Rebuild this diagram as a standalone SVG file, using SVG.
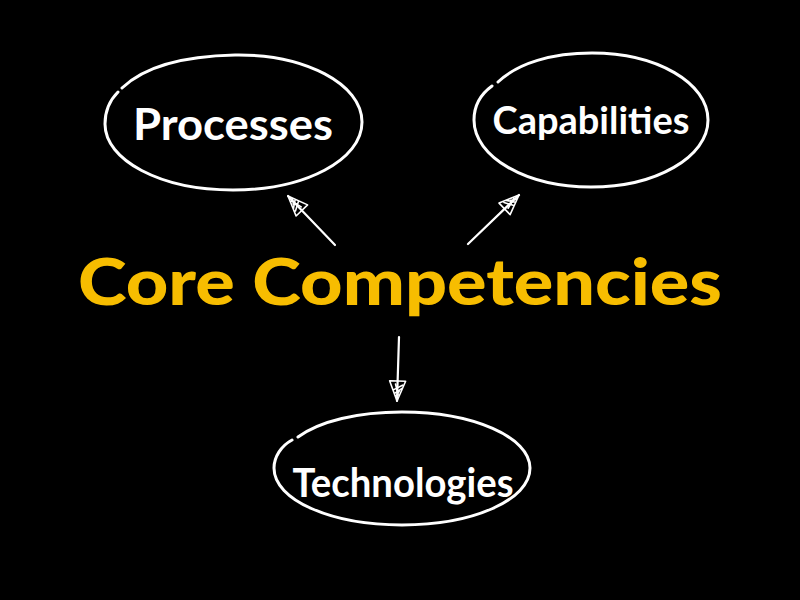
<svg xmlns="http://www.w3.org/2000/svg" width="800" height="600" viewBox="0 0 800 600">
<style>
.bubble{fill:none;stroke:#fff;stroke-width:3;stroke-linecap:round;stroke-linejoin:round}
.lbl{fill:#fff;font-family:Lato,"Open Sans",sans-serif;font-weight:700;text-anchor:middle}
.title{fill:#f7bd00;font-family:Lato,"Open Sans",sans-serif;font-weight:900;text-anchor:middle}
.conn{stroke:#fff;stroke-width:2.2;fill:none;stroke-linecap:round}
</style>
<defs>
<marker id="ah" viewBox="-2 -10 24 20" refX="20" refY="0" markerWidth="24" markerHeight="20" markerUnits="userSpaceOnUse" orient="auto">
<path d="M0,-8 L20,0 L0,8 Z M4,-5 L9,4 M7,-5 L12,2 M3,2 L14,-1 M10,-2 L15,1" fill="none" stroke="#fff" stroke-width="1.6" stroke-linejoin="round" stroke-linecap="round"/>
</marker>
</defs>
<rect width="800" height="600" fill="#000"/>
<g id="processes">
<path class="bubble" d="M122,88 C145,66 185,56 235,55 C305,54 362,84 362,122 C362,160 305,190 233,190 C160,190 105,160 105,124 C105,110 110,100 118,92"/>
<text class="lbl" x="233" y="140" font-size="44" textLength="200" lengthAdjust="spacingAndGlyphs">Processes</text>
</g>
<g id="capabilities">
<path class="bubble" d="M498,82 C518,63 552,53 592,53 C657,53 708,83 708,120 C708,157 656,187 591,187 C526,187 474,157 474,120 C474,106 481,94 492,86"/>
<text class="lbl" x="591" y="134" font-size="38" textLength="197" lengthAdjust="spacingAndGlyphs">Capabilities</text>
</g>
<g id="technologies">
<path class="bubble" d="M298,437 C320,421 358,412 402,412 C473,412 530,437 530,468 C530,500 473,525 402,525 C331,525 274,500 274,468 C274,457 281,446 292,440"/>
<text class="lbl" x="403" y="497" font-size="40" textLength="221" lengthAdjust="spacingAndGlyphs">Technologies</text>
</g>
<g id="core">
<text class="title" x="400" y="305" font-size="64" textLength="644" lengthAdjust="spacingAndGlyphs">Core Competencies</text>
</g>
<g id="connectors">
<path class="conn" d="M335,245 L288,196" marker-end="url(#ah)"/>
<path class="conn" d="M468,244 L519,195" marker-end="url(#ah)"/>
<path class="conn" d="M399,337 L397,401" marker-end="url(#ah)"/>
</g>
</svg>
